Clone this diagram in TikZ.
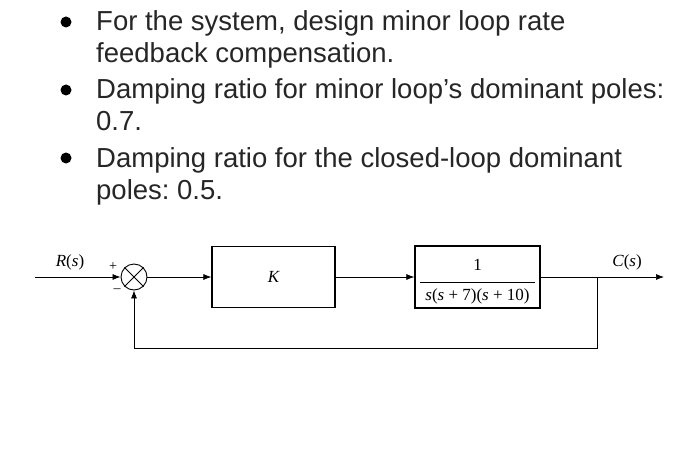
\documentclass[tikz,border=0pt]{standalone}
\usepackage{fontspec}
\setmainfont{Liberation Serif}
\newfontfamily\bulletfont{Liberation Sans}
\usetikzlibrary{arrows.meta}
\frenchspacing
\begin{document}
\begin{tikzpicture}[x=1pt,y=-1pt,
  txt/.style={anchor=base west,inner sep=0pt,font=\bulletfont\fontsize{27.5}{30}\selectfont\frenchspacing,text=black!85},
  blk/.style={draw,line width=1.3pt,minimum width=123pt,minimum height=61pt,inner sep=0pt},
  sig/.style={line width=0.7pt,-{Latex[length=8pt,width=6pt]}},
  lbl/.style={inner sep=0pt,font=\fontsize{17}{19}\selectfont}]
\useasboundingbox[fill=white] (0,0) rectangle (700,449);
\foreach \y/\t/\b in {31/{For the system, design minor loop rate}/1, 63/{feedback compensation.}/0, 99/{Damping ratio for minor loop’s dominant poles:}/1, 131/{0.7.}/0, 167/{Damping ratio for the closed-loop dominant}/1, 199/{poles: 0.5.}/0}{
  \node[txt] (t\y) at (96,\y) {\t};
  \ifnum\b=1 \fill (66,\y-9) circle (5.5);\fi
}
\node[draw,circle,minimum size=26pt,inner sep=0pt,line width=0.9pt] (sum) at (134,277) {};
\draw[line width=0.9pt] (sum.north west)--(sum.south east) (sum.north east)--(sum.south west);
\coordinate (in) at (35,277);
\node[blk,font=\fontsize{17}{19}\selectfont\itshape] (k) at (273.5,277) {K};
\node[blk,minimum width=125pt,minimum height=62pt] (g) at (477.5,277) {};
\node[lbl] (num) at (477.5,265) {1};
\node[lbl] (den) at (477.5,296) {\textit{s}(\textit{s} + 7)(\textit{s} + 10)};
\draw[line width=0.6pt] (420,282)--(535,282);
\coordinate (br) at (597,277);
\coordinate (out) at (664,277);
\coordinate (bot) at (597,348);
\coordinate (bl) at (134,348);
\draw[sig] (in)--(sum.west);
\draw[sig] (sum.east)--(k.west);
\draw[sig] (k.east)--(g.west);
\draw[sig] (g.east)--(out);
\draw[sig] (br)--(bot)--(bl)--(sum.south);
\node[lbl] (r) at (70,262) {\textit{R}(\textit{s})};
\node[lbl] (c) at (627,262) {\textit{C}(\textit{s})};
\node[lbl,font=\fontsize{14}{16}\selectfont] (p) at (113,267) {+};
\node[lbl,font=\fontsize{14}{16}\selectfont] (m) at (117,291) {–};
\end{tikzpicture}
\end{document}
